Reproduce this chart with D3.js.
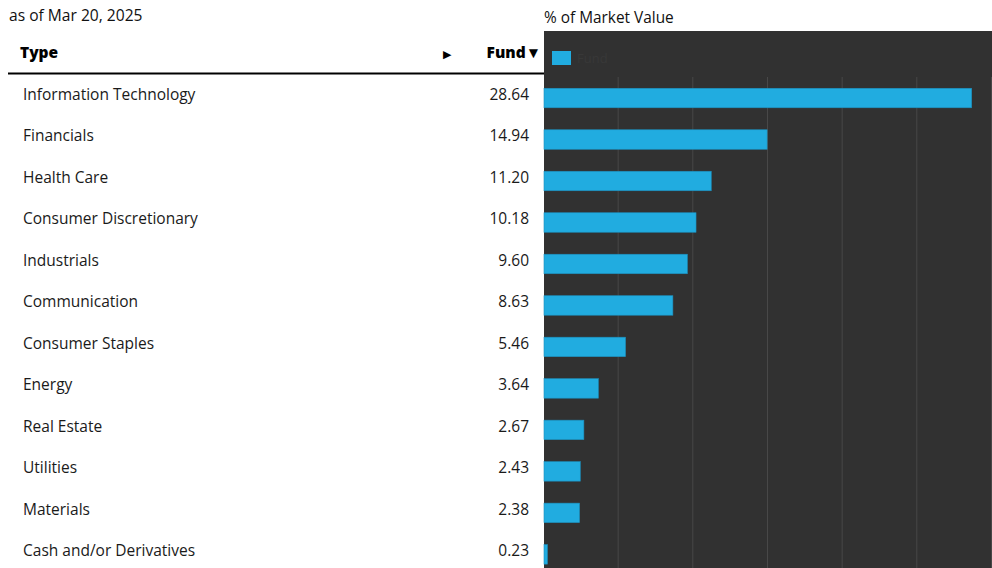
<!DOCTYPE html>
<html>
<head>
<meta charset="utf-8">
<script src="https://cdn.jsdelivr.net/npm/d3@7"></script>
<style>
  body { margin: 0; background: #fff; font-family: "Open Sans", "Noto Sans", sans-serif; }
</style>
</head>
<body>
<svg id="chart"></svg>
<script>
// Sector breakdown, as of Mar 20, 2025
const sectors = ["Information Technology", "Financials", "Health Care", "Consumer Discretionary",
  "Industrials", "Communication", "Consumer Staples", "Energy", "Real Estate", "Utilities",
  "Materials", "Cash and/or Derivatives"];
const fundValues = [28.64, 14.94, 11.20, 10.18, 9.60, 8.63, 5.46, 3.64, 2.67, 2.43, 2.38, 0.23];
const gridTicks = [5, 10, 15, 20, 25, 30];

const data = sectors.map((s, i) => ({type: s, fund: fundValues[i]}));

const W = 992, H = 568;
const panel = {left: 544, top: 31, right: 992};
const rowTop = 77.5, rowStep = 41.45;

const svg = d3.select("#chart")
    .attr("width", W)
    .attr("height", H);

// Scales
const y = d3.scaleBand()
    .domain(sectors)
    .range([rowTop, rowTop + rowStep * sectors.length])
    .paddingInner(0.53)
    .paddingOuter(0.26);

const x = d3.scaleLinear()
    .domain([0, 30])
    .range([panel.left, panel.right]);

// Date note
svg.append("text")
    .attr("x", 9)
    .attr("y", 21)
    .attr("font-size", "15.6px")
    .attr("fill", "#111")
    .text("as of Mar 20, 2025");

// Chart title
svg.append("text")
    .attr("x", 544)
    .attr("y", 23)
    .attr("font-size", "15.4px")
    .attr("fill", "#111")
    .text("% of Market Value");

// Dark chart panel
svg.append("rect")
    .attr("x", panel.left)
    .attr("y", panel.top)
    .attr("width", panel.right - panel.left)
    .attr("height", H - panel.top)
    .attr("fill", "#313131");

// Grid lines
svg.append("g")
    .selectAll("line")
    .data(gridTicks)
    .join("line")
    .attr("x1", d => x(d) - 0.5)
    .attr("x2", d => x(d) - 0.5)
    .attr("y1", 77)
    .attr("y2", H)
    .attr("stroke", "#484848")
    .attr("stroke-width", 1);

// Legend
svg.append("rect")
    .attr("x", 552)
    .attr("y", 51)
    .attr("width", 19)
    .attr("height", 14)
    .attr("fill", "#21ace0");
svg.append("text")
    .attr("x", 577)
    .attr("y", 63)
    .attr("font-size", "13px")
    .attr("fill", "#383838")
    .text("Fund");

// Table header
svg.append("text")
    .attr("x", 20)
    .attr("y", 58)
    .attr("font-size", "15.5px")
    .attr("font-weight", "900")
    .attr("fill", "#000")
    .text("Type");
svg.append("text")
    .attr("x", 447)
    .attr("y", 58)
    .attr("text-anchor", "middle")
    .attr("font-size", "11px")
    .attr("fill", "#000")
    .text("▶");
svg.append("text")
    .attr("x", 541)
    .attr("y", 58)
    .attr("text-anchor", "end")
    .attr("font-size", "15.5px")
    .attr("font-weight", "900")
    .attr("fill", "#000")
    .text("Fund▼");
svg.append("line")
    .attr("x1", 8)
    .attr("x2", 544)
    .attr("y1", 73.5)
    .attr("y2", 73.5)
    .attr("stroke", "#000")
    .attr("stroke-width", 2);

// Rows: labels and values
const rows = svg.append("g")
    .selectAll("g")
    .data(data)
    .join("g")
    .attr("transform", d => `translate(0,${y(d.type) + y.bandwidth() / 2 - 3.5})`);

rows.append("text")
    .attr("x", 23)
    .attr("dy", "0.35em")
    .attr("font-size", "15.5px")
    .attr("fill", "#1a1a1a")
    .text(d => d.type);

rows.append("text")
    .attr("x", 529)
    .attr("dy", "0.35em")
    .attr("text-anchor", "end")
    .attr("font-size", "15.5px")
    .attr("fill", "#1a1a1a")
    .text(d => d.fund.toFixed(2));

// Bars
svg.append("g")
    .selectAll("rect")
    .data(data)
    .join("rect")
    .attr("x", x(0))
    .attr("y", d => y(d.type))
    .attr("width", d => x(d.fund) - x(0))
    .attr("height", y.bandwidth())
    .attr("fill", "#21ace0")
    .attr("stroke", "#1d8fbd")
    .attr("stroke-width", 0.6);
</script>
</body>
</html>
